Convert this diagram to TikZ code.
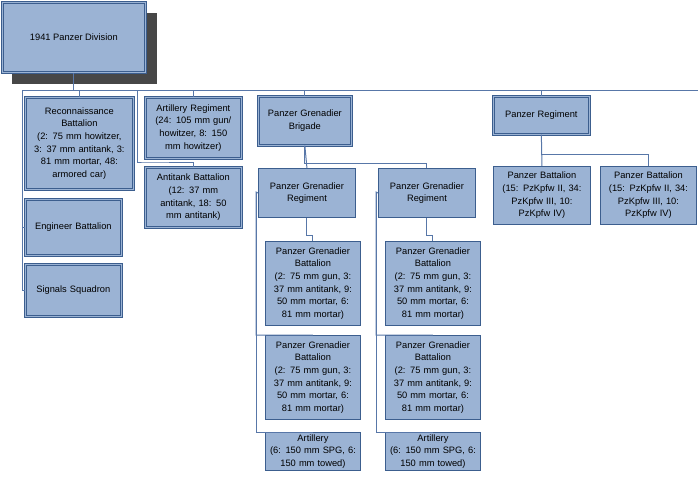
\documentclass[tikz,border=0pt]{standalone}
\usepackage{fontspec}
\setmainfont{Liberation Sans}
\begin{document}
\begin{tikzpicture}[x=1pt,y=-1pt,
  box/.style={draw=bdr,fill=bfill,line width=0.9pt,anchor=north west,align=center,inner sep=1pt,font=\fontsize{9.3}{12.6}\selectfont},
  dbl/.style={box,double=bfill,double distance=1.3pt,line width=0.7pt},
  ln/.style={draw=lcol,line width=1pt}]
\definecolor{bfill}{HTML}{9BB3D4}
\definecolor{bdr}{HTML}{3C5E8E}
\definecolor{lcol}{HTML}{5877A8}
\useasboundingbox (0,0) rectangle (698,482);
\fill[black!72] (12,13) rectangle (157,84);
\newcommand\bx[6]{\node[#1,minimum width=#4,minimum height=#5,text width=#4-8] (#6) at (#2,#3) {};}
% nodes
\node[dbl,minimum width=143,minimum height=70] (div) at (2,2) {1941 Panzer Division};
\node[dbl,minimum width=108,minimum height=92,text width=100] (rec) at (25,97) {Reconnaissance\\Battalion\\(2: 75 mm howitzer,\\3: 37 mm antitank, 3:\\81 mm mortar, 48:\\armored car)};
\node[dbl,minimum width=96,minimum height=56,text width=90] (eng) at (25,199) {Engineer Battalion};
\node[dbl,minimum width=96,minimum height=52,text width=90] (sig) at (25,264) {Signals Squadron};
\node[dbl,minimum width=96,minimum height=61,text width=92] (art) at (145,97) {Artillery Regiment\\(24: 105 mm gun/\\howitzer, 8: 150\\mm howitzer)};
\node[dbl,minimum width=96,minimum height=60,text width=92] (at) at (145,167) {Antitank Battalion\\(12: 37 mm\\antitank, 18: 50\\mm antitank)};
\node[dbl,minimum width=93,minimum height=49,text width=88] (brig) at (258,96) {Panzer Grenadier\\Brigade};
\node[dbl,minimum width=96,minimum height=38,text width=90] (preg) at (493,96) {Panzer Regiment};
\node[box,minimum width=97,minimum height=58,text width=92] (pb1) at (493,166) {Panzer Battalion\\(15: PzKpfw II, 34:\\PzKpfw III, 10:\\PzKpfw IV)};
\node[box,minimum width=96,minimum height=58,text width=92] (pb2) at (600,166) {Panzer Battalion\\(15: PzKpfw II, 34:\\PzKpfw III, 10:\\PzKpfw IV)};
\foreach \i/\x in {1/258,2/378}{
  \node[box,minimum width=97,minimum height=49,text width=92] (r\i) at (\x,168) {Panzer Grenadier\\Regiment};
  \node[box,minimum width=95,minimum height=84,text width=92] (b\i a) at (\x+7,241) {Panzer Grenadier\\Battalion\\(2: 75 mm gun, 3:\\37 mm antitank, 9:\\50 mm mortar, 6:\\81 mm mortar)};
  \node[box,minimum width=95,minimum height=84,text width=92] (b\i b) at (\x+7,335) {Panzer Grenadier\\Battalion\\(2: 75 mm gun, 3:\\37 mm antitank, 9:\\50 mm mortar, 6:\\81 mm mortar)};
  \node[box,minimum width=95,minimum height=38,text width=92] (a\i) at (\x+7,432) {Artillery\\(6: 150 mm SPG, 6:\\150 mm towed)};
}
% connectors
\coordinate (busL) at (22,90); \coordinate (busR) at (698,90);
\draw[ln] (busL) -- (busR);
\draw[ln] (div.south) -- (div.south |- busL);
\draw[ln] (rec.north) -- (rec.north |- busL);
\draw[ln] (busL) |- (eng.west);
\draw[ln] (busL) |- (sig.west);
\draw[ln] (art.north) -- (art.north |- busL);
\coordinate (al) at (137,90);
\draw[ln] (al) |- (145,162) -| (at.north);
\draw[ln] (brig.north) -- (brig.north |- busL);
\draw[ln] (preg.north) -- (preg.north |- busL);
\draw[ln] (brig.south) -- ++(0,18) -| (r2.north);
\draw[ln] (brig.south) -- (r1.north);
\draw[ln] (preg.south) -- ++(0,20) -| (pb2.north);
\draw[ln] (preg.south) -- (pb1.north);
\foreach \i/\x in {1/256,2/376}{
  \draw[ln] (r\i.south) -- ++(0,18) -| (b\i a.north);
  \draw[ln] (r\i.west) -- (\x,192) |- (b\i b.north);
  \draw[ln] (\x,192) |- (a\i.north);
}
\end{tikzpicture}
\end{document}
